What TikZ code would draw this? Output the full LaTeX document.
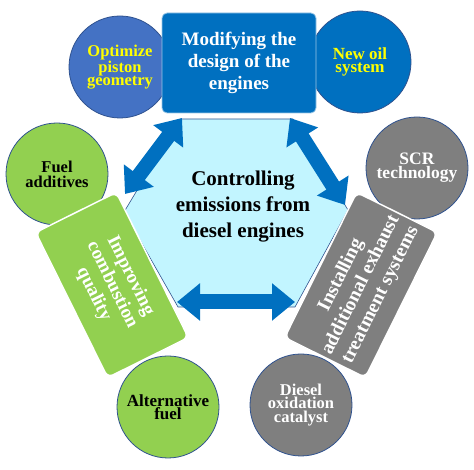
\documentclass[tikz,border=0pt]{standalone}
\usepackage{fontspec}
\setmainfont{Liberation Serif}
\usetikzlibrary{shapes,arrows.meta}

\definecolor{engblue}{RGB}{0,112,192}
\definecolor{pistblue}{RGB}{68,114,196}
\definecolor{hexcyan}{RGB}{194,245,255}
\definecolor{fuelgreen}{RGB}{146,208,80}
\definecolor{exgray}{RGB}{127,127,127}
\definecolor{rimblue}{RGB}{47,82,143}
\definecolor{tipyellow}{RGB}{255,255,0}

\begin{document}
\begin{tikzpicture}[x=1pt,y=1pt,
  bub/.style={circle,draw=rimblue,line width=0.8pt,minimum size=102pt,inner sep=0pt,align=center,font=\bfseries\fontsize{16.5}{13.5}\selectfont},
  card/.style={rectangle,rounded corners=6pt,draw=white,line width=1.5pt,minimum width=162pt,minimum height=90pt,inner sep=2pt,align=center,text=white,font=\bfseries\fontsize{19}{20.5}\selectfont},
  dblarrow/.style={line width=15pt,draw=engblue,{Triangle[length=23pt,width=36pt]}-{Triangle[length=23pt,width=36pt]}}]
\useasboundingbox (0,0) rectangle (474,470);

% hexagon
\coordinate (h1) at (180,351);
\coordinate (h2) at (293,351);
\coordinate (h3) at (348,260);
\coordinate (h4) at (295,163);
\coordinate (h5) at (178,163);
\coordinate (h6) at (124,258);
\filldraw[fill=hexcyan,draw=rimblue,line width=0.6pt] (h1) -- (h2) -- (h3) -- (h4) -- (h5) -- (h6) -- cycle;

% arrows
\coordinate (a1) at (182,352);
\coordinate (a2) at (125,276);
\coordinate (b1) at (290,352);
\coordinate (b2) at (345,265);
\coordinate (c1) at (177,168);
\coordinate (c2) at (295,168);
\draw[dblarrow] (a1) -- (a2);
\draw[dblarrow] (b1) -- (b2);
\draw[dblarrow] (c1) -- (c2);

% circles
\node[bub,fill=pistblue,text=tipyellow,font=\bfseries\fontsize{16.5}{13}\selectfont] (piston) at (120,403) {Optimize\\piston\\geometry};
\node[bub,fill=engblue,text=tipyellow,font=\bfseries\fontsize{17}{13}\selectfont] (oil) at (360,408) {New oil\\system};
\node[bub,fill=fuelgreen,text=black,font=\bfseries\fontsize{16.5}{15}\selectfont] (additive) at (57,296) {Fuel\\additives};
\node[bub,fill=exgray,text=white,font=\bfseries\fontsize{17.5}{14}\selectfont] (scr) at (417,302) {SCR\\technology};
\node[bub,fill=fuelgreen,text=black,font=\bfseries\fontsize{17}{13}\selectfont] (altfuel) at (168,63) {Alternative\\fuel};
\node[bub,fill=exgray,text=white] (doc) at (301,65) {Diesel\\oxidation\\catalyst};

% cards
\node[card,fill=fuelgreen,rotate=-63.6] (combust) at (112,185) {Improving\\combustion\\quality};
\node[card,fill=exgray,rotate=63.6,font=\bfseries\fontsize{19.5}{22}\selectfont] (exhaust) at (361,185) {Installing\\additional exhaust\\treatment systems};
\node[rectangle,rounded corners=5pt,fill=engblue,draw=white!60!engblue,line width=0.8pt,minimum width=154pt,minimum height=100pt,align=center,text=white,font=\bfseries\fontsize{19}{22}\selectfont] (design) at (239,407) {Modifying the\\design of the\\engines};

\node[align=center,font=\bfseries\fontsize{21}{26}\selectfont] (control) at (243,263) {Controlling\\emissions from\\diesel engines};

\end{tikzpicture}
\end{document}
